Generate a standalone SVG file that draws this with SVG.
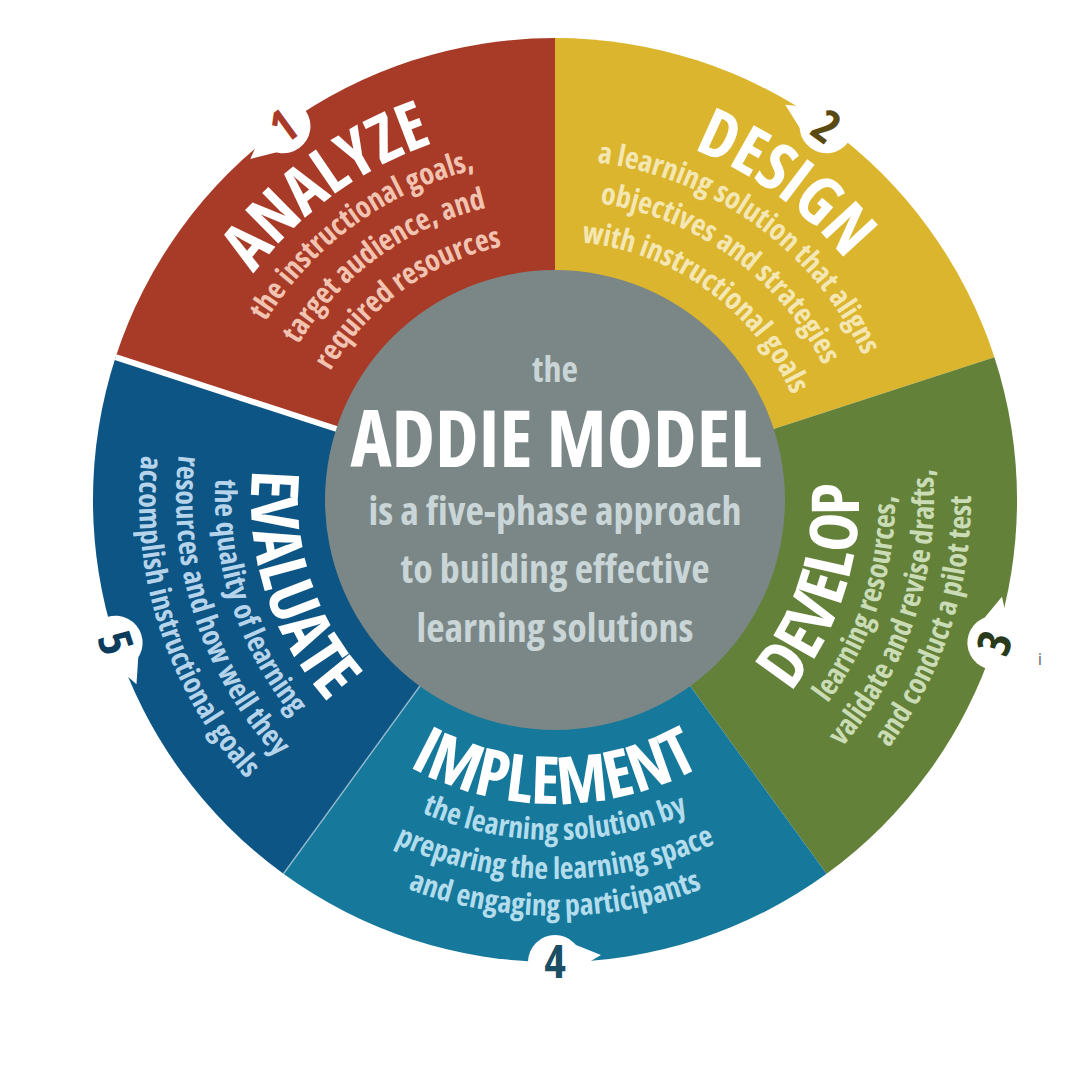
<svg xmlns="http://www.w3.org/2000/svg" xmlns:xlink="http://www.w3.org/1999/xlink" width="1080" height="1080" viewBox="0 0 1080 1080">
<style>
text { font-family: "Open Sans", "DejaVu Sans Condensed", "Liberation Sans", sans-serif; font-weight: 700; font-stretch: condensed; }
.title { font-size: 66px; fill: #ffffff; }
.body { font-size: 30px; }
.num { font-size: 46px; text-anchor: middle; }
.ctr { text-anchor: middle; fill: #c9d5d6; font-size: 40px; }
.an { fill: #f2c3b1; } .de { fill: #f5e7b3; } .dv { fill: #c9dcb5; } .im { fill: #b3dcec; } .ev { fill: #b5d3ea; }
</style>
<defs>
<path id="cw377" d="M179.44,467.14 A377,377 0 0 1 930.56,467.14"/>
<path id="cw340" d="M216.29,470.37 A340,340 0 0 1 893.71,470.37"/>
<path id="cw300" d="M256.14,473.85 A300,300 0 0 1 853.86,473.85"/>
<path id="cw259" d="M296.99,477.43 A259,259 0 0 1 813.01,477.43"/>
<path id="ccw304" d="M252.16,526.50 A304,304 0 0 0 857.84,526.50"/>
<path id="ccw340" d="M216.29,529.63 A340,340 0 0 0 893.71,529.63"/>
<path id="ccw379" d="M177.44,533.03 A379,379 0 0 0 932.56,533.03"/>
<path id="ccw416" d="M140.59,536.26 A416,416 0 0 0 969.41,536.26"/>
<g id="badge">
<circle cx="0" cy="0" r="27" fill="#ffffff"/>
<polygon points="16,-19 24,6 46,-7" fill="#ffffff"/>
</g>
</defs>
<rect width="1080" height="1080" fill="#ffffff"/>

<g id="analyze">
<path d="M555,500 L115.6,357.2 A462,462 0 0 1 555,38 Z" fill="#a83b28"/>
<g transform="rotate(-36 555 500)">
<text class="title"><textPath href="#cw377" startOffset="50%" text-anchor="middle">ANALYZE</textPath></text>
<text class="body an"><textPath href="#cw340" startOffset="50%" text-anchor="middle">the instructional goals,</textPath></text>
<text class="body an"><textPath href="#cw300" startOffset="50%" text-anchor="middle">target audience, and</textPath></text>
<text class="body an"><textPath href="#cw259" startOffset="50%" text-anchor="middle">required resources</textPath></text>
</g>
</g>

<g id="design">
<path d="M555,500 L555,38 A462,462 0 0 1 994.4,357.2 Z" fill="#dab52d"/>
<g transform="rotate(36 555 500)">
<text class="title"><textPath href="#cw377" startOffset="50%" text-anchor="middle">DESIGN</textPath></text>
<text class="body de"><textPath href="#cw340" startOffset="50%" text-anchor="middle">a learning solution that aligns</textPath></text>
<text class="body de"><textPath href="#cw300" startOffset="50%" text-anchor="middle">objectives and strategies</textPath></text>
<text class="body de"><textPath href="#cw259" startOffset="50%" text-anchor="middle">with instructional goals</textPath></text>
</g>
</g>

<g id="develop">
<path d="M555,500 L994.4,357.2 A462,462 0 0 1 826.6,873.8 Z" fill="#648139"/>
<g transform="rotate(-72 555 500)">
<text class="title"><textPath href="#ccw304" startOffset="50%" text-anchor="middle">DEVELOP</textPath></text>
<text class="body dv"><textPath href="#ccw340" startOffset="50%" text-anchor="middle">learning resources,</textPath></text>
<text class="body dv"><textPath href="#ccw379" startOffset="50%" text-anchor="middle">validate and revise drafts,</textPath></text>
<text class="body dv"><textPath href="#ccw416" startOffset="50%" text-anchor="middle">and conduct a pilot test</textPath></text>
</g>
</g>

<g id="implement">
<path d="M555,500 L826.6,873.8 A462,462 0 0 1 283.4,873.8 Z" fill="#16799b"/>
<text class="title"><textPath href="#ccw304" startOffset="50%" text-anchor="middle">IMPLEMENT</textPath></text>
<text class="body im"><textPath href="#ccw340" startOffset="50%" text-anchor="middle">the learning solution by</textPath></text>
<text class="body im"><textPath href="#ccw379" startOffset="50%" text-anchor="middle">preparing the learning space</textPath></text>
<text class="body im"><textPath href="#ccw416" startOffset="50%" text-anchor="middle">and engaging participants</textPath></text>
</g>

<g id="evaluate">
<path d="M555,500 L283.4,873.8 A462,462 0 0 1 115.6,357.2 Z" fill="#0c5584"/>
<g transform="rotate(72 555 500)">
<text class="title"><textPath href="#ccw304" startOffset="50%" text-anchor="middle">EVALUATE</textPath></text>
<text class="body ev"><textPath href="#ccw340" startOffset="50%" text-anchor="middle">the quality of learning</textPath></text>
<text class="body ev"><textPath href="#ccw379" startOffset="50%" text-anchor="middle">resources and how well they</textPath></text>
<text class="body ev"><textPath href="#ccw416" startOffset="50%" text-anchor="middle">accomplish instructional goals</textPath></text>
</g>
</g>

<g id="connectors">
<line x1="115.6" y1="357.2" x2="338.2" y2="429.5" stroke="#ffffff" stroke-width="6"/>
<line x1="283.4" y1="873.8" x2="421" y2="684.5" stroke="#ffffff" stroke-opacity="0.45" stroke-width="1.5"/>
</g>

<g id="center">
<circle cx="555" cy="500" r="230" fill="#7a8786"/>
<text class="ctr" x="555" y="382" style="font-size:36px">the</text>
<text x="556" y="467" text-anchor="middle" fill="#ffffff" style="font-size:78px">ADDIE MODEL</text>
<text class="ctr" x="555" y="525">is a five-phase approach</text>
<text class="ctr" x="555" y="583">to building effective</text>
<text class="ctr" x="555" y="642">learning solutions</text>
</g>

<g id="badge1">
<use href="#badge" transform="rotate(144 555 500) translate(555 962)"/>
<text class="num" fill="#a83b28" transform="translate(283.4 126.2) rotate(-36)" y="16.4">1</text>
</g>
<g id="badge2">
<use href="#badge" transform="rotate(-144 555 500) translate(555 962)"/>
<text class="num" fill="#5a4a12" transform="translate(826.6 126.2) rotate(36)" y="16.4">2</text>
</g>
<g id="badge3">
<use href="#badge" transform="rotate(-72 555 500) translate(555 962)"/>
<text class="num" fill="#2a3a1c" transform="translate(994.4 642.8) rotate(-72)" y="16.4">3</text>
</g>
<g id="badge4">
<use href="#badge" transform="translate(555 962)"/>
<text class="num" fill="#1b4f66" transform="translate(555 962)" y="16.4">4</text>
</g>
<g id="badge5">
<use href="#badge" transform="rotate(72 555 500) translate(555 962)"/>
<text class="num" fill="#0c3c5c" transform="translate(115.6 642.8) rotate(72)" y="16.4">5</text>
</g>
<text x="1040" y="665" text-anchor="middle" fill="#555555" style="font-size:16px;font-weight:400">i</text>
</svg>
